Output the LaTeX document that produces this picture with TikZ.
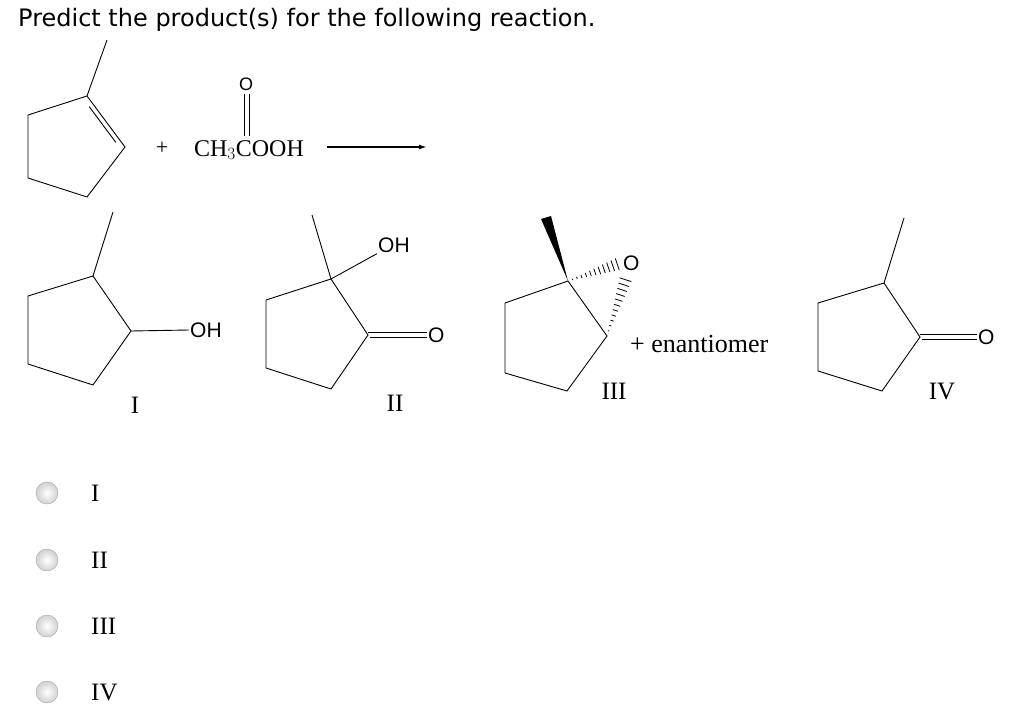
\documentclass[tikz,border=0pt]{standalone}
\usepackage{fontspec}
\setmainfont{Liberation Serif}
\newfontfamily\ver{DejaVu Sans}
\newfontfamily\ari{Liberation Sans}
\usetikzlibrary{calc,arrows.meta}
\begin{document}
\begin{tikzpicture}[x=1pt,y=-1pt,
  bond/.style={line width=0.9pt},
  atom/.style={font=\ari\fontsize{21}{21}\selectfont,inner sep=1pt},
  roman/.style={font=\fontsize{25}{25}\selectfont,inner sep=0pt},
  radio/.style={circle,draw=black!35,inner color=white,outer color=black!18,minimum size=22pt,inner sep=0pt}]
\useasboundingbox (0,0) rectangle (1011,722);
\node[anchor=west,font=\ver\fontsize{24}{24}\selectfont,inner sep=0pt] (title) at (18,20) {Predict the product(s) for the following reaction.};
% reactant
\coordinate (a1) at (87,96); \coordinate (a2) at (28,115); \coordinate (a3) at (28,178);
\coordinate (a4) at (87,197); \coordinate (a5) at (125,147); \coordinate (am) at (107,40);
\draw[bond] (a1)--(a2)--(a3)--(a4)--(a5)--cycle;
\draw[bond] (am)--(a1);
\draw[bond] ($(a1)!0.15!(a5)+(-3.5,3)$)--($(a1)!0.85!(a5)+(-3.5,3)$);
\node[font=\fontsize{22}{22}\selectfont] (plus) at (162,148) {+};
\node[font=\fontsize{24}{24}\selectfont,inner sep=0pt] (acid) at (249,150) {CH$_3$COOH};
\node[atom,font=\ari\fontsize{18}{18}\selectfont] (acO) at (246,84) {O};
\draw[bond] (244.5,94)--(244.5,136) (249.5,94)--(249.5,136);
\coordinate (ar1) at (327,147); \coordinate (ar2) at (427,147);
\draw[line width=1.6pt,-{Latex[length=8pt,width=5pt]}] (ar1)--(ar2);
% I
\coordinate (b1) at (93,276); \coordinate (b2) at (28,296); \coordinate (b3) at (28,364);
\coordinate (b4) at (93,385); \coordinate (b5) at (131,331); \coordinate (bm) at (113,212);
\draw[bond] (b1)--(b2)--(b3)--(b4)--(b5)--cycle;
\draw[bond] (bm)--(b1);
\node[atom,anchor=west] (bOH) at (189,330) {OH};
\draw[bond] (b5)--(bOH.west);
\node[roman] (lI) at (135,405) {I};
% II
\coordinate (c1) at (331,279); \coordinate (c2) at (266,300); \coordinate (c3) at (266,368);
\coordinate (c4) at (331,389); \coordinate (c5) at (368,335); \coordinate (cm) at (312,215);
\draw[bond] (c1)--(c2)--(c3)--(c4)--(c5)--cycle;
\draw[bond] (cm)--(c1);
\node[atom,anchor=west] (cOH) at (377,245) {OH};
\draw[bond] (c1)--(cOH.south west);
\node[atom,anchor=west] (cO) at (427,335) {O};
\draw[bond] ($(c5)+(0,-2.5)$)--($(cO.west)+(0,-2.5)$) ($(c5)+(2,2.5)$)--($(cO.west)+(0,2.5)$);
\node[roman] (lII) at (395,403) {II};
% III
\coordinate (d1) at (568,281); \coordinate (d2) at (505,303); \coordinate (d3) at (505,373);
\coordinate (d4) at (567,391); \coordinate (d5) at (607,336);
\coordinate (h1) at (624,262); \coordinate (h2) at (628,272);
\draw[bond] (d1)--(d2)--(d3)--(d4)--(d5)--cycle;
\fill (d1)--(541,219)--(551,216)--cycle;
\node[atom,anchor=west] (dO) at (622,263) {O};
\foreach \t in {0.08,0.16,...,0.96}{
  \pgfmathsetlengthmacro\hh{\t*7pt}
  \draw[line width=0.8pt] ($(d1)!\t!(h1)!\hh!90:(h1)$)--($(d1)!\t!(h1)!\hh!-90:(h1)$);
  \draw[line width=0.8pt] ($(d5)!\t!(h2)!\hh!90:(h2)$)--($(d5)!\t!(h2)!\hh!-90:(h2)$);
}
\node[font=\fontsize{26}{26}\selectfont,anchor=west,inner sep=0pt] (enan) at (630,344) {+ enantiomer};
\node[roman] (lIII) at (614,391) {III};
% IV
\coordinate (e1) at (884,283); \coordinate (e2) at (818,303); \coordinate (e3) at (818,371);
\coordinate (e4) at (882,391); \coordinate (e5) at (920,337); \coordinate (em) at (904,218);
\draw[bond] (e1)--(e2)--(e3)--(e4)--(e5)--cycle;
\draw[bond] (em)--(e1);
\node[atom,anchor=west] (eO) at (977,337) {O};
\draw[bond] ($(e5)+(0,-2.5)$)--($(eO.west)+(0,-2.5)$) ($(e5)+(2,2.5)$)--($(eO.west)+(0,2.5)$);
\node[roman] (lIV) at (942,392) {IV};
% radio options
\foreach \y/\l/\n in {493/I/1,560/II/2,626/III/3,692/IV/4}{
  \node[radio] (r\n) at (47,\y) {};
  \node[roman,anchor=west] (o\n) at (91,\y) {\l};
}
\end{tikzpicture}
\end{document}
